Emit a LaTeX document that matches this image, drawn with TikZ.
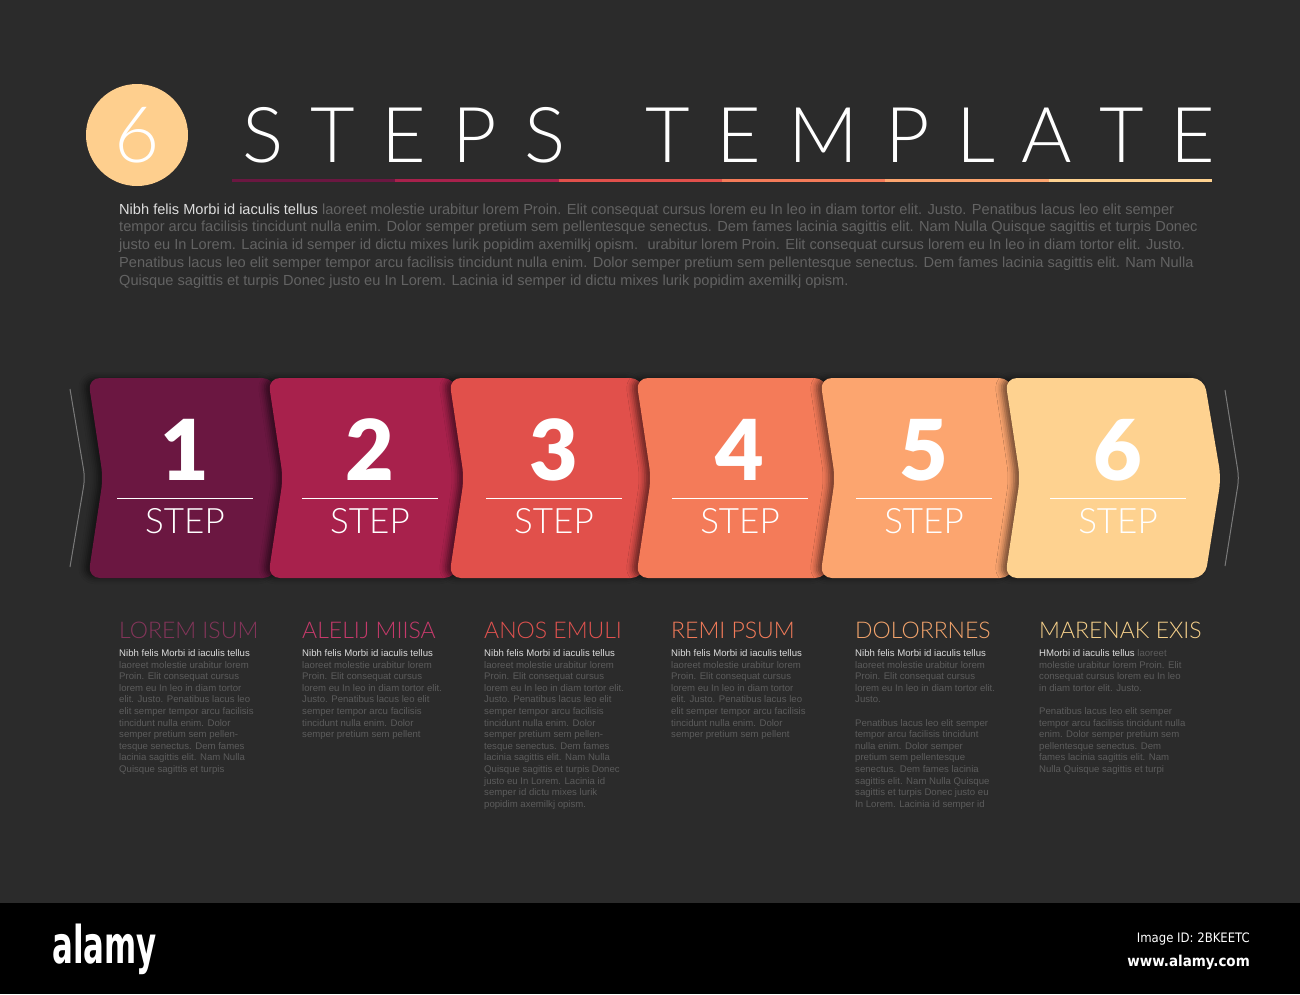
\documentclass[tikz,border=0pt]{standalone}
\usepackage{fontspec}
\setmainfont{Liberation Sans}
\newfontfamily\latolight{Lato Light}
\newfontfamily\latoblack{Lato Black}
\newfontfamily\dvc{DejaVu Sans Condensed}
\usetikzlibrary{shadows.blur}
\definecolor{bg}{HTML}{2B2B2B}
\definecolor{s1}{HTML}{6B1741}
\definecolor{s2}{HTML}{A8214C}
\definecolor{s3}{HTML}{E1504B}
\definecolor{s4}{HTML}{F47B59}
\definecolor{s5}{HTML}{FCA56F}
\definecolor{s6}{HTML}{FED290}
\definecolor{h1}{HTML}{84355A}
\definecolor{h2}{HTML}{C63A6B}
\definecolor{h3}{HTML}{E0524F}
\definecolor{h4}{HTML}{F47C5A}
\definecolor{h5}{HTML}{F3A46C}
\definecolor{h6}{HTML}{F6D08A}
\definecolor{circ}{HTML}{FECF8E}
\definecolor{dimtext}{HTML}{636363}
\definecolor{coldim}{HTML}{5C5C5C}
\definecolor{hitext}{HTML}{DDDDDD}
\definecolor{guidegray}{HTML}{7A7A7A}
\tikzset{
 stepnum/.style={text=white, font=\latoblack\fontsize{84}{84}\selectfont, anchor=base, inner sep=0pt},
 steplabel/.style={text=white, font=\latolight\fontsize{35}{35}\selectfont, anchor=base, inner sep=0pt},
 colhead/.style={font=\latolight\fontsize{23}{23}\selectfont, anchor=base west, inner sep=0pt},
 coltext/.style={text=coldim, font=\fontsize{9.6}{11.6}\selectfont, anchor=base west, inner sep=0pt},
 paratext/.style={text=dimtext, font=\fontsize{14.6}{17.75}\selectfont, anchor=base west, inner sep=0pt},
 stepshape/.style={rounded corners=12pt, blur shadow={shadow xshift=-5pt, shadow yshift=0pt, shadow blur radius=6pt, shadow opacity=55}},
 guide/.style={draw=guidegray, line width=1pt, rounded corners=8pt},
 stepline/.style={draw=white, line width=1.3pt},
}
\newcommand\colblock[3]{\foreach \t [count=\k from 0] in {#3} {\node[coltext] (#2-\k) at (#1,656.5+\k*11.6) {\t};}}
\begin{document}
\begin{tikzpicture}[x=1pt,y=-1pt]
\useasboundingbox (0,0) rectangle (1300,994);
\fill[bg] (0,0) rectangle (1300,994);
\fill[black] (0,903) rectangle (1300,994);
% header
\fill[circ] (137,135) circle (51);
\node[text=white, font=\latolight\fontsize{78}{78}\selectfont, anchor=base, inner sep=0pt] (six) at (137,162) {6};
\node[text=white, font=\latolight\fontsize{77}{77}\selectfont, anchor=base west, inner sep=0pt] (title) at (242,162)
  {\makebox[973pt][s]{S\hfill T\hfill E\hfill P\hfill S\hfill\hfill\hfill T\hfill E\hfill M\hfill P\hfill L\hfill A\hfill T\hfill E}};
\foreach \c [count=\i from 0] in {s1,s2,s3,s4,s5,s6} {
  \draw[\c, line width=3pt] (232+\i*163.3,180.5) -- (232+\i*163.3+163.3,180.5);
}
% paragraph
\foreach \t [count=\k from 0] in {
 {{\color{hitext}Nibh felis Morbi id iaculis tellus} laoreet molestie urabitur lorem Proin. Elit consequat cursus lorem eu In leo in diam tortor elit. Justo. Penatibus lacus leo elit semper},
 {tempor arcu facilisis tincidunt nulla enim. Dolor semper pretium sem pellentesque senectus. Dem fames lacinia sagittis elit. Nam Nulla Quisque sagittis et turpis Donec},
 {justo eu In Lorem. Lacinia id semper id dictu mixes lurik popidim axemilkj opism. \ urabitur lorem Proin. Elit consequat cursus lorem eu In leo in diam tortor elit. Justo.},
 {Penatibus lacus leo elit semper tempor arcu facilisis tincidunt nulla enim. Dolor semper pretium sem pellentesque senectus. Dem fames lacinia sagittis elit. Nam Nulla},
 {Quisque sagittis et turpis Donec justo eu In Lorem. Lacinia id semper id dictu mixes lurik popidim axemilkj opism.}} {
  \node[paratext] (p\k) at (119,214+\k*17.75) {\t};
}
% step shapes
\foreach \L/\R/\c [count=\i] in {88/274/s1, 268/455/s2, 449/642/s3, 636/826/s4, 820/1011/s5, 1005/1204/s6} {
  \path[stepshape, fill=\c] (\L,378) -- (\R,378) -- (\R+17,478) -- (\R+1,578) -- (\L,578) -- (\L+15,478) -- cycle;
}
\foreach \n/\cx [count=\i] in {1/185, 2/370, 3/554, 4/740, 5/924, 6/1118} {
  \node[stepnum] (n\i) at (\cx,480) {\n};
  \coordinate (la\i) at (\cx-68,498.5);
  \coordinate (lb\i) at (\cx+68,498.5);
  \draw[stepline] (la\i) -- (lb\i);
  \node[steplabel] (st\i) at (\cx,533) {STEP};
}
% guide chevrons
\coordinate (g1) at (70,389); \coordinate (g2) at (85,478); \coordinate (g3) at (70,567);
\draw[guide] (g1) -- (g2) -- (g3);
\coordinate (g4) at (1225,390); \coordinate (g5) at (1239,478); \coordinate (g6) at (1225,566);
\draw[guide] (g4) -- (g5) -- (g6);
% column headers
\foreach \x/\c/\t [count=\i] in {119/h1/LOREM ISUM, 302/h2/ALELIJ MIISA, 484/h3/ANOS EMULI, 671/h4/REMI PSUM, 855/h5/DOLORRNES, 1039/h6/MARENAK EXIS} {
  \node[colhead, text=\c] (hd\i) at (\x,638) {\t};
}
\colblock{119}{ca}{{\color{hitext}Nibh felis Morbi id iaculis tellus}, laoreet molestie urabitur lorem, Proin. Elit consequat cursus, lorem eu In leo in diam tortor, elit. Justo. Penatibus lacus leo, elit semper tempor arcu facilisis, tincidunt nulla enim. Dolor, semper pretium sem pellen-, tesque senectus. Dem fames, lacinia sagittis elit. Nam Nulla, Quisque sagittis et turpis}
\colblock{302}{cb}{{\color{hitext}Nibh felis Morbi id iaculis tellus}, laoreet molestie urabitur lorem, Proin. Elit consequat cursus, lorem eu In leo in diam tortor elit., Justo. Penatibus lacus leo elit, semper tempor arcu facilisis, tincidunt nulla enim. Dolor, semper pretium sem pellent}
\colblock{484}{cc}{{\color{hitext}Nibh felis Morbi id iaculis tellus}, laoreet molestie urabitur lorem, Proin. Elit consequat cursus, lorem eu In leo in diam tortor elit., Justo. Penatibus lacus leo elit, semper tempor arcu facilisis, tincidunt nulla enim. Dolor, semper pretium sem pellen-, tesque senectus. Dem fames, lacinia sagittis elit. Nam Nulla, Quisque sagittis et turpis Donec, justo eu In Lorem. Lacinia id, semper id dictu mixes lurik, popidim axemilkj opism.}
\colblock{671}{cd}{{\color{hitext}Nibh felis Morbi id iaculis tellus}, laoreet molestie urabitur lorem, Proin. Elit consequat cursus, lorem eu In leo in diam tortor, elit. Justo. Penatibus lacus leo, elit semper tempor arcu facilisis, tincidunt nulla enim. Dolor, semper pretium sem pellent}
\colblock{855}{ce}{{\color{hitext}Nibh felis Morbi id iaculis tellus}, laoreet molestie urabitur lorem, Proin. Elit consequat cursus, lorem eu In leo in diam tortor elit., Justo., {}, Penatibus lacus leo elit semper, tempor arcu facilisis tincidunt, nulla enim. Dolor semper, pretium sem pellentesque, senectus. Dem fames lacinia, sagittis elit. Nam Nulla Quisque, sagittis et turpis Donec justo eu, In Lorem. Lacinia id semper id}
\colblock{1039}{cf}{{{\color{hitext}HMorbi id iaculis tellus} laoreet}, molestie urabitur lorem Proin. Elit, consequat cursus lorem eu In leo, in diam tortor elit. Justo., {}, Penatibus lacus leo elit semper, tempor arcu facilisis tincidunt nulla, enim. Dolor semper pretium sem, pellentesque senectus. Dem, fames lacinia sagittis elit. Nam, Nulla Quisque sagittis et turpi}
% bottom bar
\node[text=white, font=\dvc\bfseries\fontsize{52}{52}\selectfont, anchor=base west, inner sep=0pt] (logo) at (52,963) {\scalebox{0.66}[1]{alamy}};
\node[text=white, font=\dvc\fontsize{13}{13}\selectfont, anchor=base east, inner sep=0pt] (imgid) at (1250,942) {Image ID: 2BKEETC};
\node[text=white, font=\dvc\bfseries\fontsize{15}{15}\selectfont, anchor=base east, inner sep=0pt] (www) at (1250,966) {www.alamy.com};
\end{tikzpicture}
\end{document}
